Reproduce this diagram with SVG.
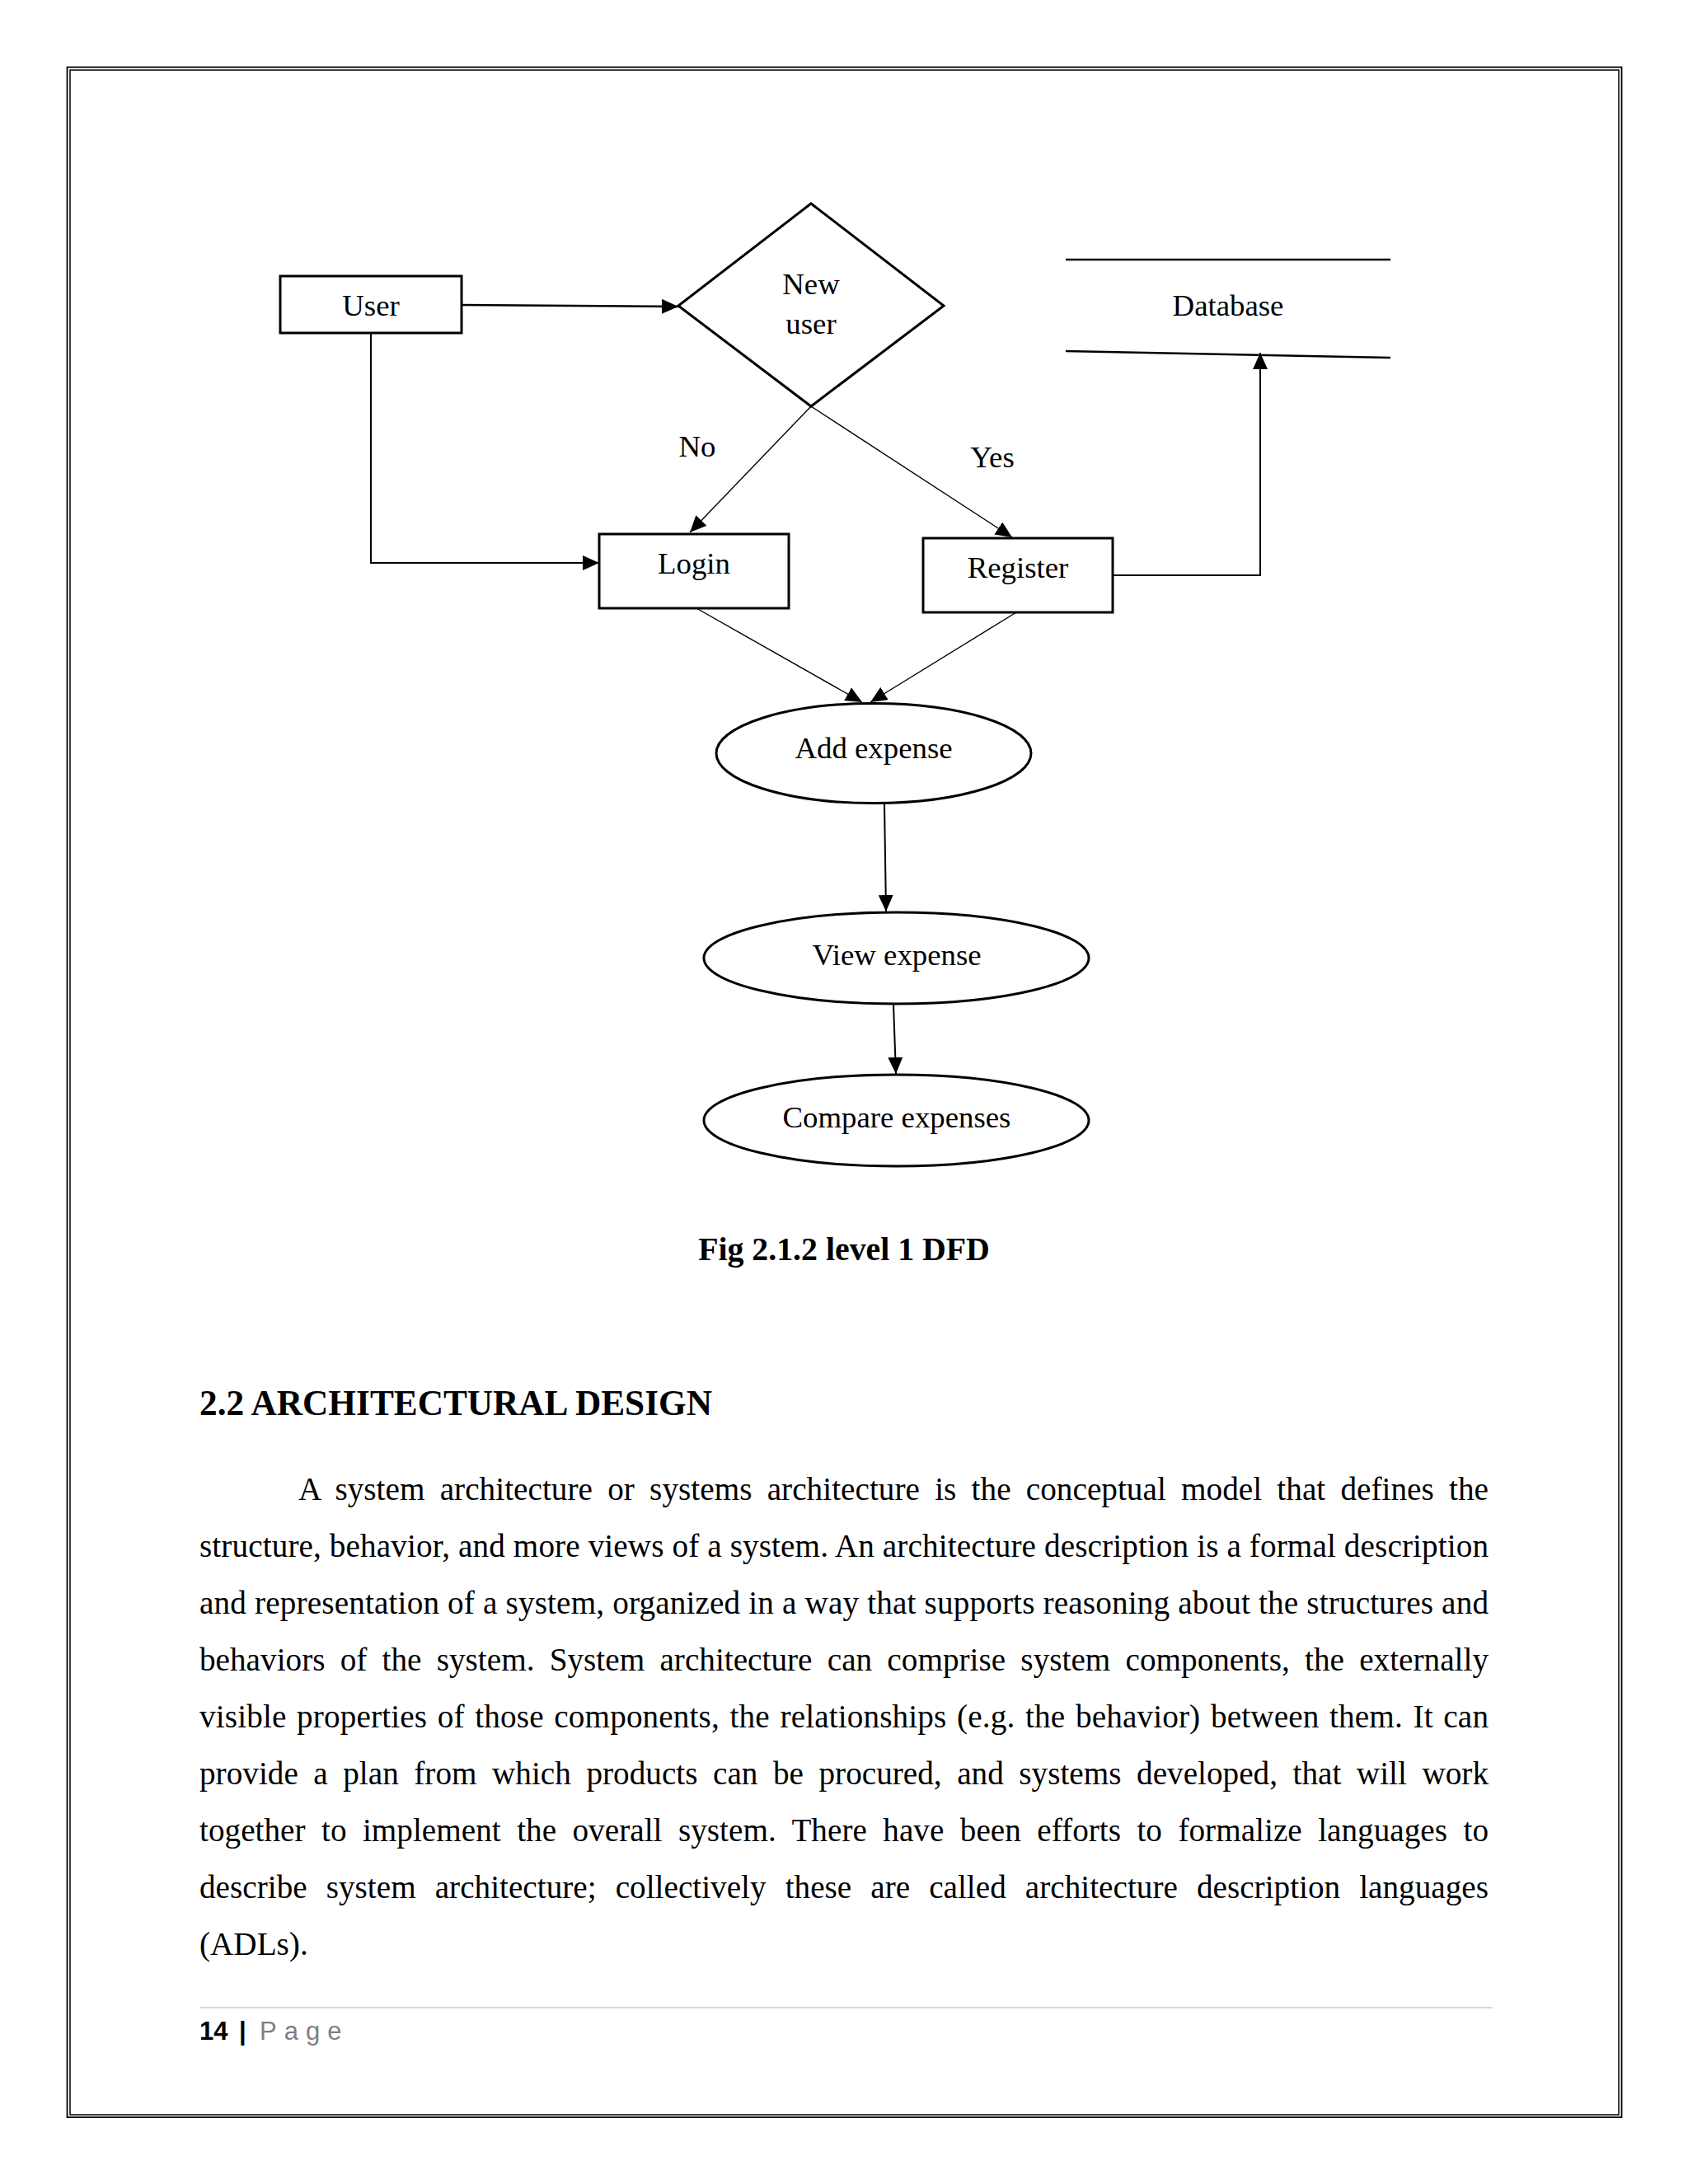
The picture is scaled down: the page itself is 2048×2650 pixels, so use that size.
<svg xmlns="http://www.w3.org/2000/svg" width="2048" height="2650" viewBox="0 0 2048 2650">
  <style>
    .box { fill: #fff; stroke: #000; stroke-width: 3; }
    .conn { fill: none; stroke: #000; }
    .lbl { font-family: "Liberation Serif", "Times New Roman", serif; font-size: 36.8px; fill: #000; text-anchor: middle; }
    .body { font-family: "Liberation Serif", "Times New Roman", serif; font-size: 39.2px; fill: #000; }
    .cap { font-family: "Liberation Serif", "Times New Roman", serif; font-size: 39.8px; font-weight: bold; fill: #000; text-anchor: middle; }
    .head { font-family: "Liberation Serif", "Times New Roman", serif; font-size: 43.3px; font-weight: bold; fill: #000; }
    .foot { font-family: "Liberation Sans", Arial, sans-serif; font-size: 31px; }
  </style>
  <defs>
    <marker id="arrow" markerUnits="userSpaceOnUse" markerWidth="20" markerHeight="18" refX="20" refY="9" orient="auto">
      <path d="M0,0 L20,9 L0,18 Z" fill="#000"/>
    </marker>
  </defs>
  <rect x="0" y="0" width="2048" height="2650" fill="#fff"/>
  <!-- page border -->
  <rect x="81.5" y="81.5" width="1886" height="2487.5" fill="none" stroke="#000" stroke-width="1.8"/>
  <rect x="85" y="85" width="1879" height="2481" fill="none" stroke="#000" stroke-width="1.5"/>

  <g id="connectors">
    <line class="conn" x1="560" y1="370" x2="823" y2="372" stroke-width="2.5" marker-end="url(#arrow)"/>
    <polyline class="conn" points="450,404 450,683 727,683" stroke-width="2" marker-end="url(#arrow)"/>
    <line class="conn" x1="984" y1="493" x2="837" y2="646" stroke-width="1.4" marker-end="url(#arrow)"/>
    <line class="conn" x1="984" y1="493" x2="1228" y2="652" stroke-width="1.4" marker-end="url(#arrow)"/>
    <polyline class="conn" points="1350,698 1529,698 1529,428" stroke-width="2" marker-end="url(#arrow)"/>
    <line class="conn" x1="845" y1="738" x2="1046" y2="852" stroke-width="1.4" marker-end="url(#arrow)"/>
    <line class="conn" x1="1233" y1="743" x2="1056" y2="852" stroke-width="1.4" marker-end="url(#arrow)"/>
    <line class="conn" x1="1073" y1="975" x2="1075" y2="1106" stroke-width="2" marker-end="url(#arrow)"/>
    <line class="conn" x1="1084" y1="1219" x2="1087" y2="1303" stroke-width="2" marker-end="url(#arrow)"/>
  </g>

  <g id="node-user">
    <rect class="box" x="340" y="335" width="220" height="69"/>
    <text class="lbl" x="450" y="383">User</text>
  </g>
  <g id="node-newuser">
    <polygon class="box" points="984,247 1145,371 984,493 823,371"/>
    <text class="lbl" x="984" y="357">New</text>
    <text class="lbl" x="984" y="405">user</text>
  </g>
  <g id="node-database">
    <line x1="1293" y1="315" x2="1687" y2="315" stroke="#000" stroke-width="2.5"/>
    <line x1="1293" y1="426" x2="1687" y2="434" stroke="#000" stroke-width="2.5"/>
    <text class="lbl" x="1490" y="383">Database</text>
  </g>
  <g id="node-login">
    <rect class="box" x="727" y="648" width="230" height="90"/>
    <text class="lbl" x="842" y="696">Login</text>
  </g>
  <g id="node-register">
    <rect class="box" x="1120" y="653" width="230" height="90"/>
    <text class="lbl" x="1235" y="701">Register</text>
  </g>
  <g id="node-add">
    <ellipse class="box" cx="1060" cy="914" rx="191" ry="60.5"/>
    <text class="lbl" x="1060" y="920">Add expense</text>
  </g>
  <g id="node-view">
    <ellipse class="box" cx="1087.5" cy="1162.5" rx="233.5" ry="55.5"/>
    <text class="lbl" x="1088" y="1171">View expense</text>
  </g>
  <g id="node-compare">
    <ellipse class="box" cx="1087.5" cy="1359.5" rx="233.5" ry="55.5"/>
    <text class="lbl" x="1088" y="1368">Compare expenses</text>
  </g>
  <g id="edge-labels">
    <text class="lbl" x="846" y="554">No</text>
    <text class="lbl" x="1204" y="567">Yes</text>
  </g>

  <text class="cap" x="1024" y="1529">Fig 2.1.2 level 1 DFD</text>
  <text class="head" x="242" y="1717">2.2 ARCHITECTURAL DESIGN</text>

  <g id="paragraph">
    <text class="body" x="362" y="1820" word-spacing="8.4" textLength="1444" lengthAdjust="spacing">A system architecture or systems architecture is the conceptual model that defines the</text>
    <text class="body" x="242" y="1889" textLength="1564" lengthAdjust="spacing">structure, behavior, and more views of a system. An architecture description is a formal description</text>
    <text class="body" x="242" y="1958" textLength="1564" lengthAdjust="spacing">and representation of a system, organized in a way that supports reasoning about the structures and</text>
    <text class="body" x="242" y="2027" word-spacing="8.4" textLength="1564" lengthAdjust="spacing">behaviors of the system. System architecture can comprise system components, the externally</text>
    <text class="body" x="242" y="2096" word-spacing="2.7" textLength="1564" lengthAdjust="spacing">visible properties of those components, the relationships (e.g. the behavior) between them. It can</text>
    <text class="body" x="242" y="2165" word-spacing="8.7" textLength="1564" lengthAdjust="spacing">provide a plan from which products can be procured, and systems developed, that will work</text>
    <text class="body" x="242" y="2234" word-spacing="9.6" textLength="1564" lengthAdjust="spacing">together to implement the overall system. There have been efforts to formalize languages to</text>
    <text class="body" x="242" y="2303" word-spacing="13.2" textLength="1564" lengthAdjust="spacing">describe system architecture; collectively these are called architecture description languages</text>
    <text class="body" x="242" y="2372">(ADLs).</text>
  </g>

  <g id="footer">
    <line x1="242" y1="2436" x2="1811" y2="2436" stroke="#d9d9d9" stroke-width="2"/>
    <text class="foot" x="242" y="2475" font-weight="bold" fill="#000">14</text>
    <text class="foot" x="290" y="2475" font-weight="bold" fill="#000">|</text>
    <text class="foot" x="315" y="2475" fill="#7f7f7f" letter-spacing="9">Page</text>
  </g>
</svg>
